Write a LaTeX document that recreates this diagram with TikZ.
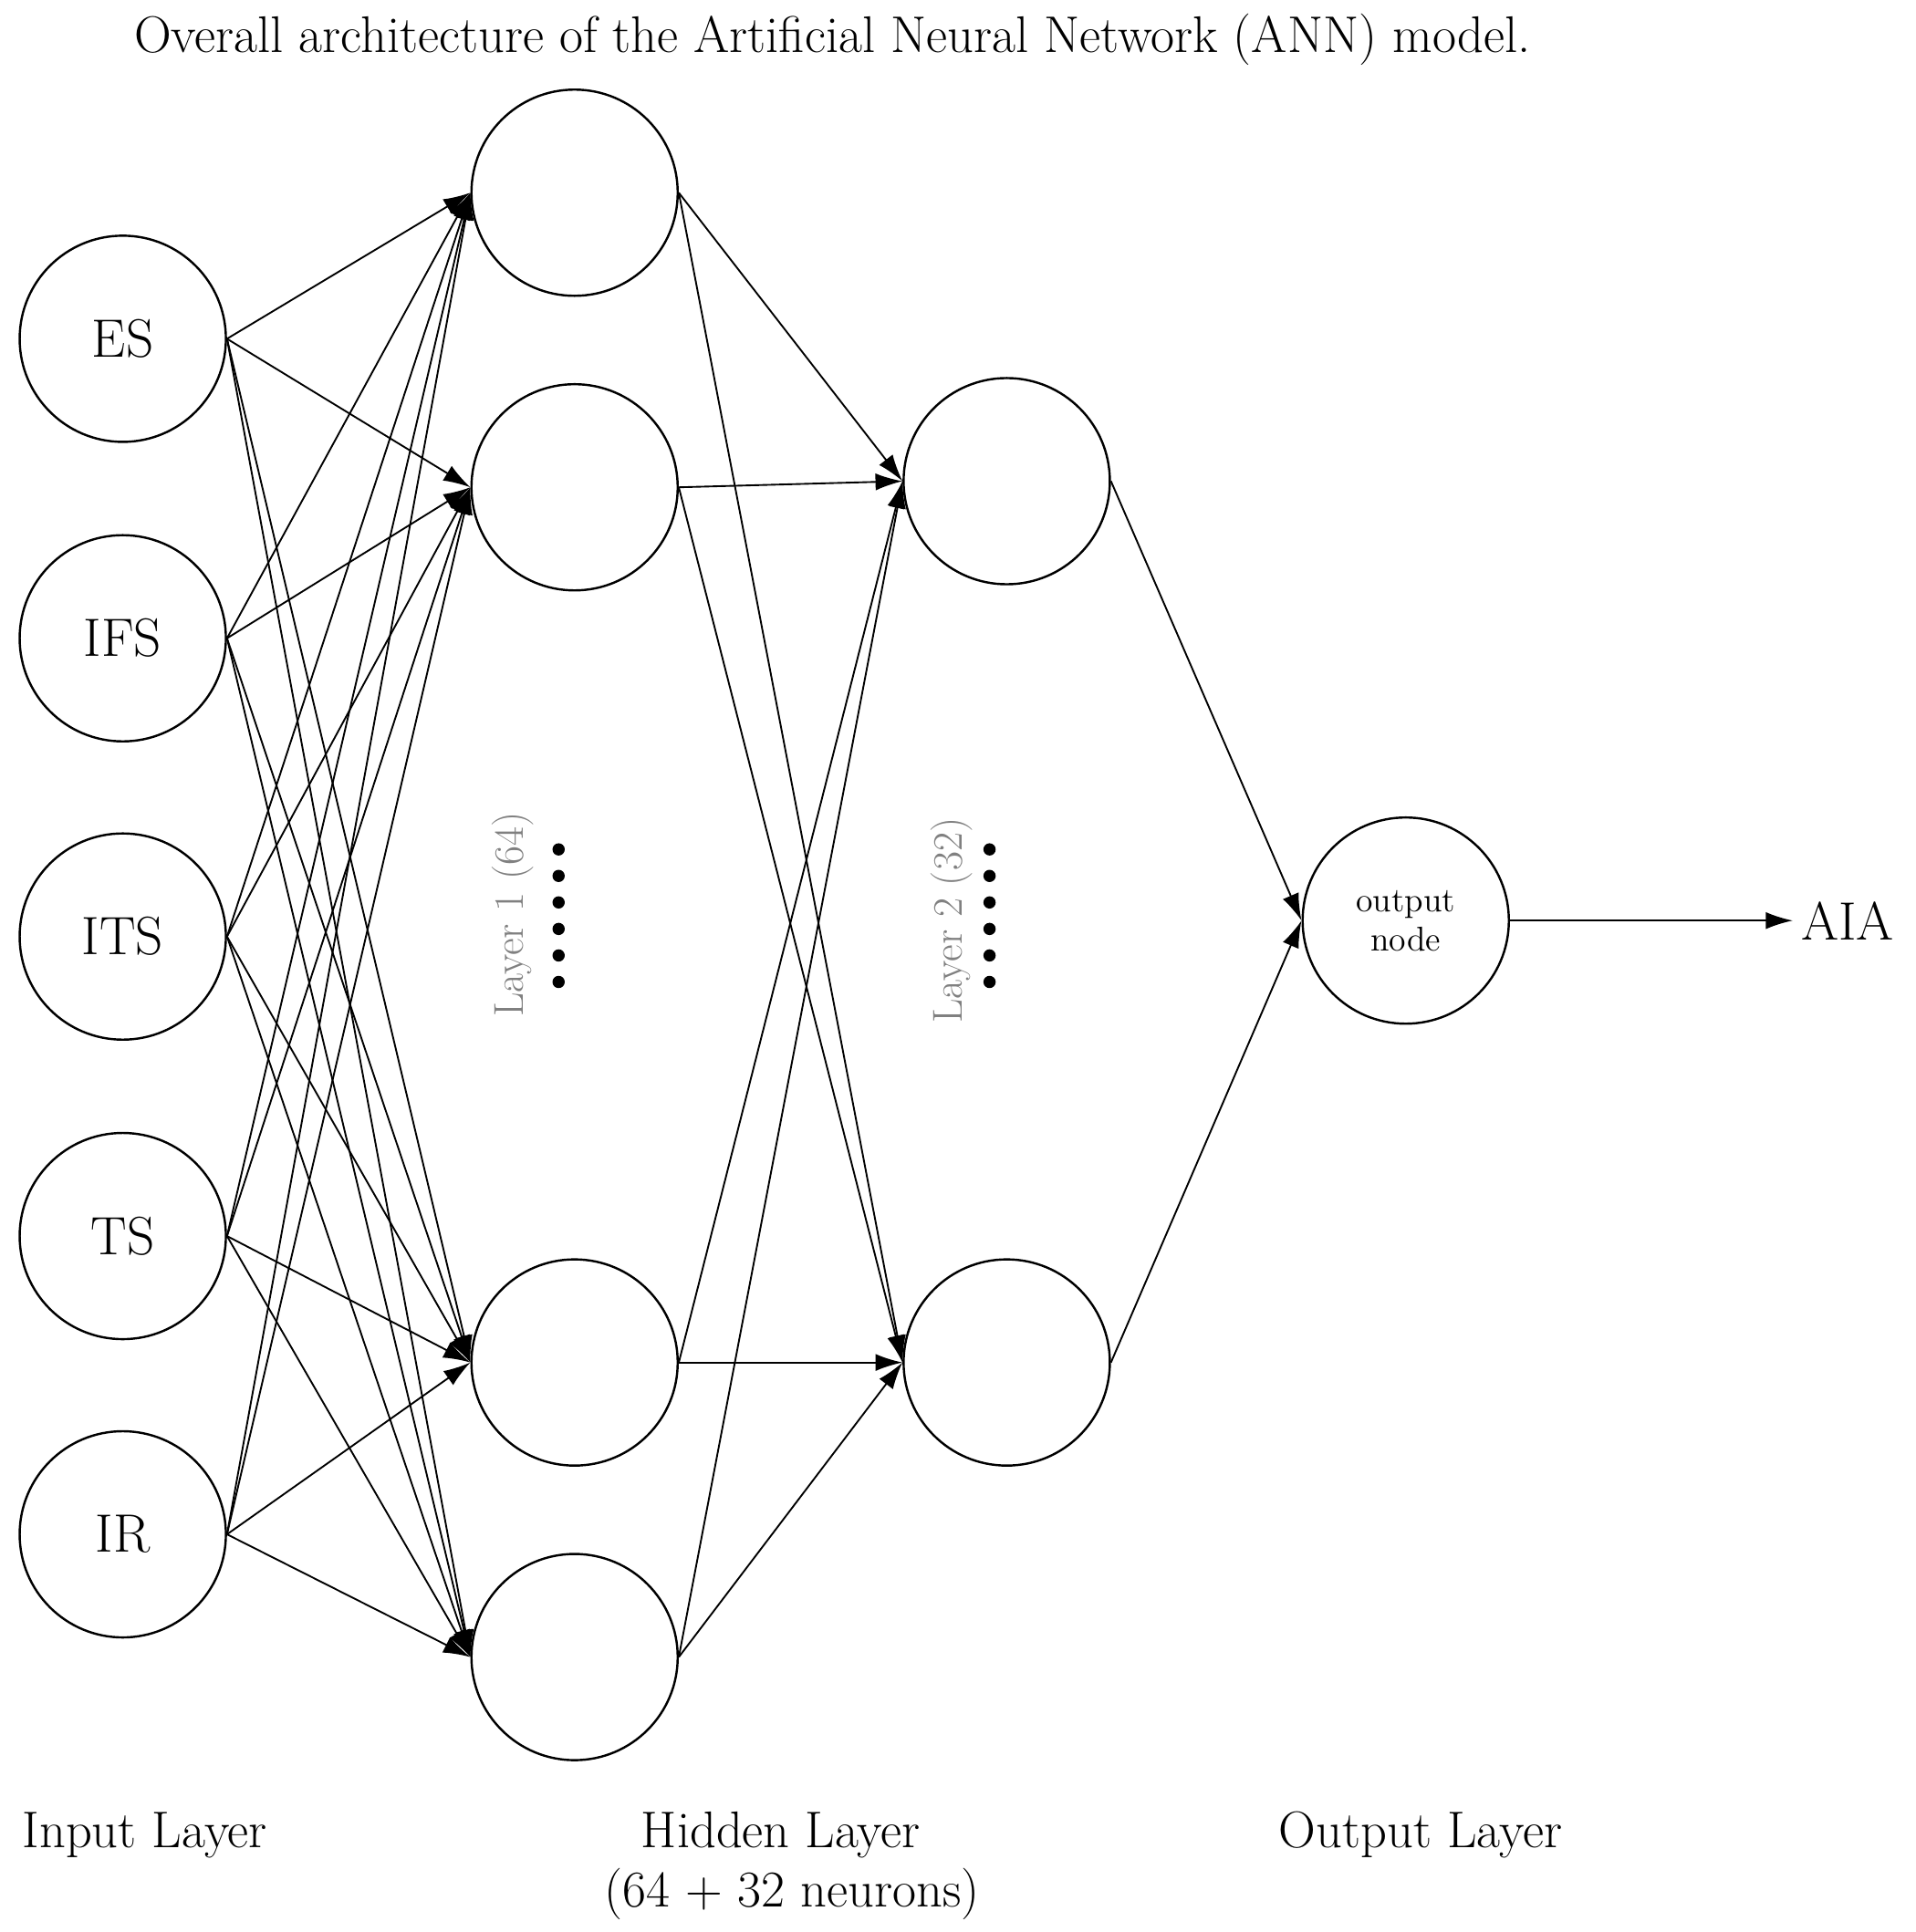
\documentclass[tikz,border=0pt]{standalone}
\usepackage{tikz}
\usetikzlibrary{positioning,arrows.meta}

\begin{document}
\begin{tikzpicture}[x=0.5pt,y=0.5pt,yscale=-1,
  neuron/.style={draw,circle,line width=0.9pt,minimum size=84pt,inner sep=0pt,font=\fontsize{22}{24}\selectfont},
  link/.style={-{Latex[length=11pt,width=7pt]},line width=0.7pt},
  lbl/.style={font=\fontsize{21}{24}\selectfont},
  dot/.style={fill=black,circle,inner sep=0pt,minimum size=5pt}]
\useasboundingbox (0,0) rectangle (1560,1574);

% title
\node[lbl] (title) at (678,32) {Overall architecture of the Artificial Neural Network (ANN) model.};

% input layer
\foreach \n/\t [count=\i] in {276/ES,520/IFS,763/ITS,1007/TS,1250/IR}
  \node[neuron] (in\i) at (100,\n) {\t};

% hidden layer 1
\foreach \n [count=\i] in {157,397,1110,1350}
  \node[neuron] (ha\i) at (468,\n) {};

% hidden layer 2
\node[neuron] (hb1) at (820,392) {};
\node[neuron] (hb2) at (820,1110) {};

% output
\node[neuron,font=\fontsize{14}{16}\selectfont,align=center] (out) at (1145,750) {output\\node};
\node[font=\fontsize{22}{24}\selectfont] (aia) at (1505,750) {AIA};

% connections
\foreach \i in {1,...,5}
  \foreach \j in {1,...,4}
    \draw[link] (in\i.east) -- (ha\j.west);
\foreach \j in {1,...,4}
  \foreach \k in {1,2}
    \draw[link] (ha\j.east) -- (hb\k.west);
\foreach \k in {1,2}
  \draw[link] (hb\k.east) -- (out.west);
\draw[link] (out) -- (aia);

% layer labels
\node[font=\fontsize{17}{20}\selectfont,text=gray,rotate=90] (l1) at (418,745) {Layer 1 (64)};
\node[font=\fontsize{17}{20}\selectfont,text=gray,rotate=90] (l2) at (775,750) {Layer 2 (32)};
\foreach \d in {0,...,5} {
  \node[dot] at (455,692+21.6*\d) {};
  \node[dot] at (806,692+21.6*\d) {};
}

% bottom labels
\node[lbl] (inl) at (118,1495) {Input Layer};
\node[lbl] (hil) at (636,1495) {Hidden Layer};
\node[lbl] (hin) at (645,1543) {(64 + 32 neurons)};
\node[lbl] (oul) at (1157,1495) {Output Layer};
\end{tikzpicture}
\end{document}
